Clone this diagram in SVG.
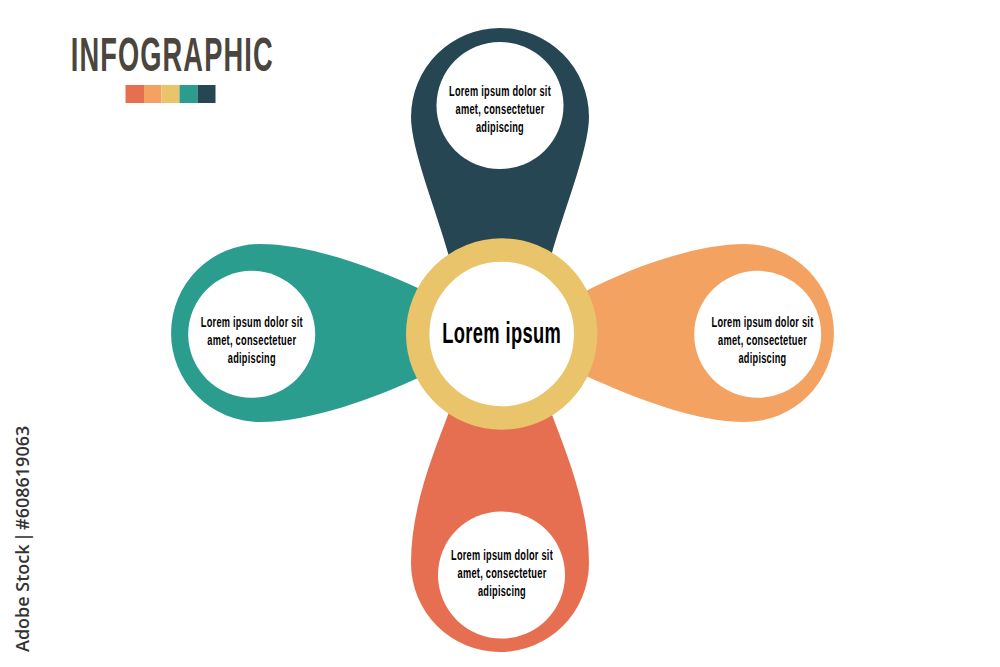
<svg xmlns="http://www.w3.org/2000/svg" width="1000" height="667" viewBox="0 0 1000 667">
<style>
text{font-family:"Liberation Sans Narrow","Liberation Sans",Arial,sans-serif;font-weight:700;fill:#000;text-anchor:middle}
.s{font-size:14.500px;letter-spacing:.4px}
.hole{fill:#fff}
.w{font-family:"Open Sans","Noto Sans",sans-serif;font-weight:600;font-size:18px;fill:#333;text-anchor:start}
</style>
<rect width="1000" height="667" fill="#fff"/>
<g id="title">
<text x="172.200" y="71" font-size="48" letter-spacing="2" style="fill:#4a453d" textLength="203" lengthAdjust="spacingAndGlyphs">INFOGRAPHIC</text>
<rect x="125.500" y="85" width="18.500" height="18" fill="#e76f51"/>
<rect x="144" y="85" width="17.500" height="18" fill="#f4a261"/>
<rect x="161.500" y="85" width="18" height="18" fill="#e9c46a"/>
<rect x="179.500" y="85" width="18" height="18" fill="#2a9d8f"/>
<rect x="197.500" y="85" width="18" height="18" fill="#264653"/>
</g>
<g id="connectors"></g>
<g id="node-top">
<path d="M450 260C438 215 411 150 411 117A89 89 0 0 1 589 117C589 150 562 215 550 260Z" fill="#264653"/>
<circle class="hole" cx="500" cy="105.500" r="63.500"/>
<text class="s" x="500" y="96" textLength="102" lengthAdjust="spacingAndGlyphs">Lorem ipsum dolor sit</text>
<text class="s" x="500" y="114" textLength="89" lengthAdjust="spacingAndGlyphs">amet, consectetuer</text>
<text class="s" x="500" y="132" textLength="48" lengthAdjust="spacingAndGlyphs">adipiscing</text>
</g>
<g id="node-left">
<path d="M420 289C375 268 310 244 260 244A89 89 0 0 0 260 422C310 422 375 398 420 377Z" fill="#2a9d8f"/>
<circle class="hole" cx="251.700" cy="334.300" r="63.500"/>
<text class="s" x="251.800" y="327" textLength="102" lengthAdjust="spacingAndGlyphs">Lorem ipsum dolor sit</text>
<text class="s" x="251.800" y="345" textLength="89" lengthAdjust="spacingAndGlyphs">amet, consectetuer</text>
<text class="s" x="251.800" y="363" textLength="48" lengthAdjust="spacingAndGlyphs">adipiscing</text>
</g>
<g id="node-right">
<path d="M586 291C630 268 695 244 745 244A89 89 0 0 1 745 422C695 422 635 398 586 376Z" fill="#f4a261"/>
<circle class="hole" cx="757.700" cy="334.300" r="63.500"/>
<text class="s" x="762.500" y="327" textLength="102" lengthAdjust="spacingAndGlyphs">Lorem ipsum dolor sit</text>
<text class="s" x="762.500" y="345" textLength="89" lengthAdjust="spacingAndGlyphs">amet, consectetuer</text>
<text class="s" x="762.500" y="363" textLength="48" lengthAdjust="spacingAndGlyphs">adipiscing</text>
</g>
<g id="node-bottom">
<path d="M449 412C435 450 411 505 411 563A89 89 0 0 0 589 563C589 505 565 450 551 412Z" fill="#e76f51"/>
<circle class="hole" cx="501.500" cy="575" r="63.500"/>
<text class="s" x="502" y="560" textLength="102" lengthAdjust="spacingAndGlyphs">Lorem ipsum dolor sit</text>
<text class="s" x="502" y="578" textLength="89" lengthAdjust="spacingAndGlyphs">amet, consectetuer</text>
<text class="s" x="502" y="596" textLength="48" lengthAdjust="spacingAndGlyphs">adipiscing</text>
</g>
<g id="node-center">
<circle cx="501.700" cy="334" r="84" fill="#fff" stroke="#e9c46a" stroke-width="23.400"/>
<text x="501.700" y="342.500" font-size="29" letter-spacing=".6" textLength="119" lengthAdjust="spacingAndGlyphs">Lorem ipsum</text>
</g>
<text class="w" transform="translate(29 530) rotate(-90)">#608619063</text>
<text class="w" transform="translate(29 542) rotate(-90)">|</text>
<text class="w" transform="translate(29 652) rotate(-90)">Adobe Stock</text>
</svg>
